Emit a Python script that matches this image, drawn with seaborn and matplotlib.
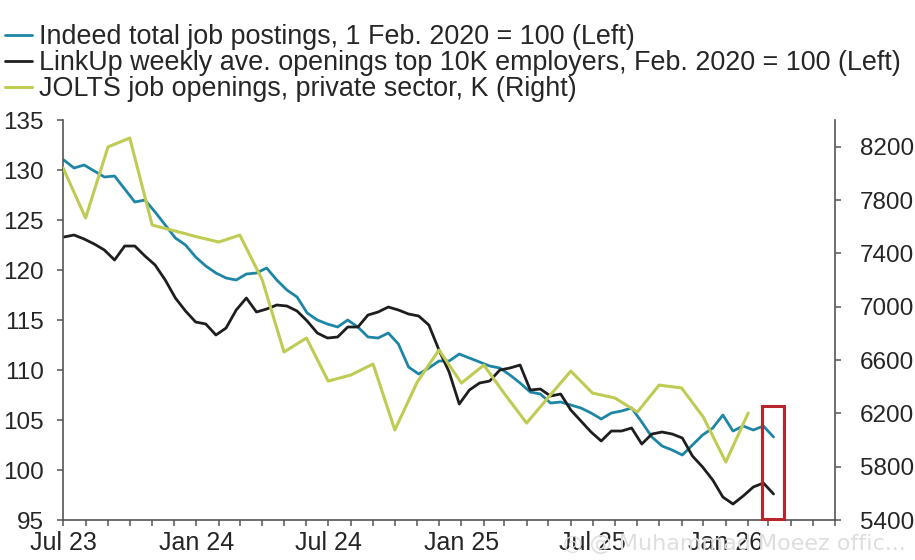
import matplotlib
matplotlib.use("Agg")
import matplotlib.pyplot as plt
import matplotlib.dates as mdates
from matplotlib.patches import Rectangle
import pandas as pd
import seaborn as sns

# Indeed + LinkUp every two weeks (from 2 Jul 2023)
indeed = [131.0, 130.2, 130.5, 129.9, 129.3, 129.4, 128.1, 126.8, 127.0, 125.8,
          124.5, 123.2, 122.5, 121.3, 120.4, 119.7, 119.2, 119.0, 119.6, 119.7,
          120.2, 119.0, 118.0, 117.3, 115.7, 115.0, 114.6, 114.3, 115.0, 114.3,
          113.3, 113.2, 113.7, 112.6, 110.3, 109.6, 110.2, 110.9, 110.9, 111.6,
          111.2, 110.8, 110.4, 110.2, 109.5, 108.7, 107.8, 107.6, 106.7, 106.8,
          106.5, 106.2, 105.7, 105.1, 105.7, 105.9, 106.2, 104.8, 103.3, 102.4,
          102.0, 101.5, 102.5, 103.5, 104.2, 105.5, 103.9, 104.4, 104.0, 104.4,
          103.3]
linkup = [123.3, 123.5, 123.1, 122.6, 122.0, 121.0, 122.4, 122.4, 121.4, 120.5,
          119.0, 117.2, 115.9, 114.8, 114.6, 113.5, 114.2, 116.0, 117.2, 115.8,
          116.1, 116.5, 116.4, 115.9, 114.9, 113.7, 113.2, 113.3, 114.3, 114.3,
          115.5, 115.8, 116.3, 116.0, 115.6, 115.4, 114.5, 112.0, 109.8, 106.6,
          108.0, 108.7, 108.9, 110.0, 110.2, 110.5, 108.0, 108.1, 107.4, 107.6,
          106.0, 104.9, 103.8, 102.9, 103.9, 103.9, 104.2, 102.6, 103.6, 103.8,
          103.6, 103.2, 101.4, 100.3, 99.0, 97.3, 96.6, 97.4, 98.3, 98.7,
          97.6]
# JOLTS monthly, thousands (from Jul 2023)
jolts = [8040, 7665, 8198, 8265, 7612, 7570, 7525, 7485, 7537, 7200,
         6660, 6765, 6442, 6487, 6570, 6075, 6435, 6675, 6427, 6562,
         6350, 6127, 6320, 6517, 6352, 6315, 6210, 6412, 6390, 6172,
         5835, 6202]

labels = ["Indeed total job postings, 1 Feb. 2020 = 100 (Left)",
          "LinkUp weekly ave. openings top 10K employers, Feb. 2020 = 100 (Left)",
          "JOLTS job openings, private sector, K (Right)"]
colors = ["#1d86a6", "#1e1e1e", "#bfcb52"]

weekly_dates = pd.date_range("2023-07-02", periods=len(indeed), freq="14D")
monthly_dates = pd.date_range("2023-07-01", periods=len(jolts), freq="MS")
df_w = pd.DataFrame({"date": weekly_dates, "indeed": indeed, "linkup": linkup})
df_m = pd.DataFrame({"date": monthly_dates, "jolts": jolts})

sns.set_style("ticks")
plt.rcParams["font.family"] = ["Liberation Sans", "DejaVu Sans"]

fig = plt.figure(figsize=(9.15, 5.6), dpi=100)
ax = fig.add_axes([0.069, 0.0714, 0.8437, 0.7143])
ax2 = ax.twinx()

sns.lineplot(data=df_w, x="date", y="indeed", ax=ax, color=colors[0], linewidth=2.0, label=labels[0], legend=False)
sns.lineplot(data=df_w, x="date", y="linkup", ax=ax, color=colors[1], linewidth=2.0, label=labels[1], legend=False)
sns.lineplot(data=df_m, x="date", y="jolts", ax=ax2, color=colors[2], linewidth=2.2, label=labels[2], legend=False)

ax.set_xlim(pd.Timestamp("2023-07-01"), pd.Timestamp("2026-06-01"))
ax.set_ylim(95, 135)
ax2.set_ylim(5400, 8400)
ax.set_yticks(range(95, 136, 5))
ax2.set_yticks(range(5400, 8201, 400))

ax.xaxis.set_major_locator(mdates.MonthLocator(bymonth=[1, 7]))
ax.xaxis.set_minor_locator(mdates.MonthLocator())
ax.xaxis.set_major_formatter(mdates.DateFormatter("%b %y"))

for a in (ax, ax2):
    a.set_xlabel("")
    a.set_ylabel("")
    a.spines["top"].set_visible(False)
    for s in a.spines.values():
        s.set_color("#555555")
        s.set_linewidth(1.2)
ax.spines["right"].set_visible(False)
ax2.spines["left"].set_visible(False)
ax2.spines["bottom"].set_visible(False)

ax.tick_params(axis="x", which="both", length=4, width=1.1, color="#555555", labelsize=18, pad=4)
ax.tick_params(axis="y", length=4, width=1.1, color="#555555", labelsize=17.5, pad=10)
ax2.tick_params(axis="y", length=4, width=1.1, color="#555555", labelsize=17.5, pad=14)

# red highlight on the latest weeks
box_start, box_end = pd.Timestamp("2026-02-20"), pd.Timestamp("2026-03-23")
x0 = mdates.date2num(box_start)
ax.add_patch(Rectangle((x0, 95.1), mdates.date2num(box_end) - x0, 11.3,
                       fill=False, edgecolor="#b8262c", linewidth=2.2, zorder=5, clip_on=False))

handles = ax.get_lines()[:2] + ax2.get_lines()[:1]
fig.legend(handles, labels, loc="upper left", bbox_to_anchor=(0.0055, 0.957), frameon=False,
           handlelength=1.0, handletextpad=0.26, labelspacing=0.0, borderaxespad=0, borderpad=0,
           prop={"size": 19.4})

fig.text(0.615, 0.018, "◎ @ Muhammad Moeez offic...", color="#dedede", fontsize=16,
         family=["DejaVu Sans"])

fig.savefig("out.png", dpi=100)
